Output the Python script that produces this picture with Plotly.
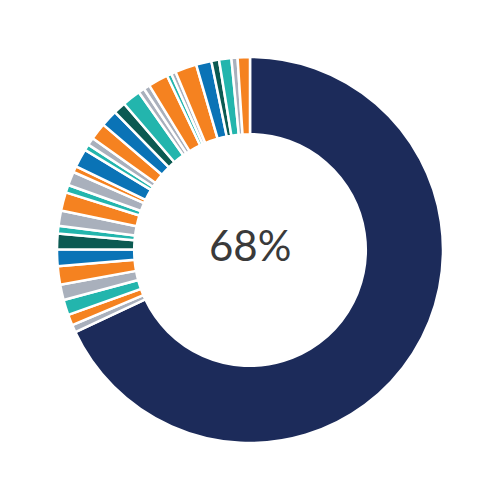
import plotly.graph_objects as go

N, O, G, T, B, D = "#1c2b5a", "#f58220", "#a9b0bc", "#23b5ad", "#0a73b6", "#0b5a52"
labels_colors = [N, G, O, T, G, O, B, D, T, G, O, T, G, O, B, T, G, O, B, D, T, G, G, O, T, G, O, B, D, T, G, O]
weights = [0, 0.5, 0.7, 1.0, 1.0, 1.2, 1.1, 1.0, 0.5, 1.0, 1.2, 0.5, 0.9, 0.4, 1.2, 0.4, 0.5, 1.1, 1.1, 0.8, 1.2, 0.4, 0.4, 1.3, 0.3, 0.3, 1.4, 1.0, 0.5, 0.8, 0.4, 0.8]
small_total = 32.0
s = sum(weights[1:])
values = [68.0] + [w * small_total / s for w in weights[1:]]

fig = go.Figure(go.Pie(
    values=values, marker=dict(colors=labels_colors, line=dict(color="white", width=2.5)),
    hole=0.6, sort=False, direction="clockwise", rotation=0,
    textinfo="none", hoverinfo="none", showlegend=False))
fig.add_annotation(text="68%", x=0.5, y=0.5, xref="paper", yref="paper", showarrow=False, yshift=5,
                   font=dict(size=42, color="#3a3a3a", family="Lato"))
fig.update_layout(width=500, height=500, margin=dict(l=49, r=65, t=49, b=65),
                  paper_bgcolor="white", plot_bgcolor="white")
fig.write_html("out.html")
